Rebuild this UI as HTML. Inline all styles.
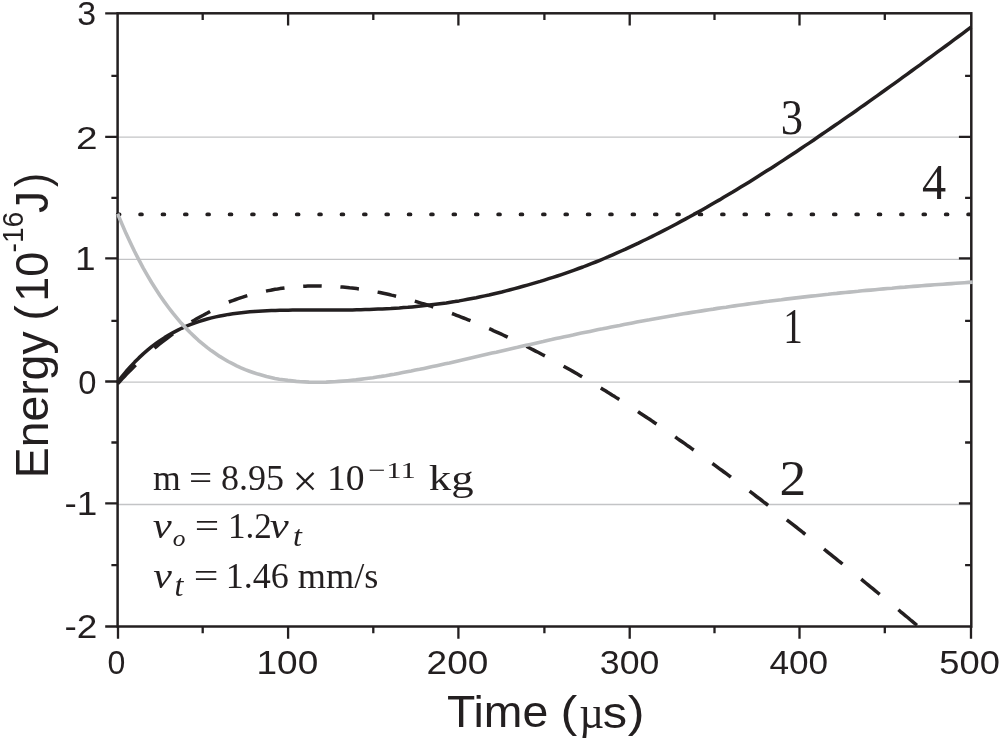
<!DOCTYPE html>
<html lang="en"><head><meta charset="utf-8"><title>Energy vs Time</title>
<style>html,body{margin:0;padding:0;background:#fff}svg{display:block}</style></head>
<body>
<svg width="1000" height="738" viewBox="0 0 1000 738">
<rect width="1000" height="738" fill="#fff"/>
<!-- horizontal grid lines -->
<g stroke="#c3c4c6" stroke-width="1.3">
<line x1="117.6" x2="971.3" y1="137.2" y2="137.2"/>
<line x1="117.6" x2="971.3" y1="259.4" y2="259.4"/>
<line x1="117.6" x2="971.3" y1="382.1" y2="382.1"/>
<line x1="117.6" x2="971.3" y1="504.5" y2="504.5"/>
</g>
<!-- curve 2 (dashed), curve 3 (solid), curve 4 (dotted) -->
<g fill="none" stroke="#231f20" stroke-linejoin="round">
<path d="M117.6,383.8 L119.9,381.3 L122.1,378.9 L124.4,376.5 L126.6,374.1 L128.9,371.8 L131.2,369.5 L133.4,367.2 L135.7,365.0M154.4,348.2 L156.7,346.3 L159.0,344.4 L161.3,342.6 L163.6,340.8 L166.0,339.0 L168.3,337.3 L170.6,335.6 L172.9,333.9M191.6,321.8 L193.9,320.4 L196.2,319.1 L198.5,317.8 L200.8,316.5 L203.2,315.3 L205.5,314.0 L207.8,312.8 L210.1,311.5M228.8,302.0 L231.1,301.1 L233.4,300.3 L235.7,299.5 L238.1,298.7 L240.4,297.9 L242.7,297.2 L245.0,296.4 L247.3,295.7M266.0,291.1 L268.3,290.6 L270.6,290.2 L272.9,289.7 L275.2,289.3 L277.6,289.0 L279.9,288.6 L282.2,288.3 L284.5,288.0M303.2,286.3 L305.5,286.2 L307.8,286.1 L310.1,286.0 L312.4,286.0 L314.8,285.9 L317.1,285.9 L319.4,285.9 L321.7,286.0M340.4,286.9 L342.7,287.1 L345.0,287.3 L347.3,287.5 L349.6,287.8 L352.0,288.0 L354.3,288.3 L356.6,288.6 L358.9,288.9M377.6,292.1 L379.9,292.5 L382.2,293.0 L384.5,293.5 L386.9,294.0 L389.2,294.5 L391.5,295.1 L393.8,295.6 L396.1,296.2M414.8,301.2 L417.1,301.9 L419.4,302.6 L421.7,303.3 L424.1,304.0 L426.4,304.7 L428.7,305.5 L431.0,306.2 L433.3,307.0M452.0,313.5 L454.3,314.4 L456.6,315.3 L458.9,316.2 L461.2,317.1 L463.6,318.0 L465.9,318.9 L468.2,319.8 L470.5,320.7M489.2,328.7 L491.5,329.7 L493.8,330.8 L496.1,331.8 L498.5,332.9 L500.8,333.9 L503.1,335.0 L505.4,336.1 L507.7,337.2M526.4,346.3 L528.7,347.5 L531.0,348.7 L533.3,349.9 L535.6,351.1 L538.0,352.3 L540.3,353.5 L542.6,354.7 L544.9,355.9M563.6,366.2 L565.9,367.5 L568.2,368.8 L570.5,370.1 L572.9,371.4 L575.2,372.7 L577.5,374.1 L579.8,375.4 L582.1,376.8M600.8,388.0 L603.1,389.4 L605.4,390.8 L607.7,392.3 L610.1,393.7 L612.4,395.2 L614.7,396.6 L617.0,398.1 L619.3,399.5M638.0,411.6 L640.3,413.2 L642.6,414.7 L644.9,416.2 L647.2,417.8 L649.6,419.3 L651.9,420.9 L654.2,422.5 L656.5,424.0M675.2,436.9 L677.5,438.6 L679.8,440.2 L682.1,441.8 L684.5,443.4 L686.8,445.1 L689.1,446.7 L691.4,448.4 L693.7,450.0M712.4,463.5 L714.7,465.2 L717.0,466.9 L719.3,468.6 L721.7,470.3 L724.0,472.0 L726.3,473.7 L728.6,475.4 L730.9,477.2M749.6,491.2 L751.9,492.9 L754.2,494.7 L756.5,496.5 L758.9,498.2 L761.2,500.0 L763.5,501.8 L765.8,503.5 L768.1,505.3M786.8,519.8 L789.1,521.6 L791.4,523.4 L793.7,525.2 L796.1,527.0 L798.4,528.8 L800.7,530.6 L803.0,532.5 L805.3,534.3M824.0,549.1 L826.3,551.0 L828.6,552.8 L830.9,554.7 L833.3,556.6 L835.6,558.4 L837.9,560.3 L840.2,562.1 L842.5,564.0M861.2,579.2 L863.5,581.1 L865.8,583.0 L868.1,584.9 L870.5,586.8 L872.8,588.7 L875.1,590.6 L877.4,592.5 L879.7,594.4M898.4,609.8 L900.7,611.8 L903.0,613.7 L905.3,615.6 L907.7,617.5 L910.0,619.5 L912.3,621.4 L914.6,623.3 L916.9,625.3" stroke-width="3.5"/>
<path d="M117.6,382.2 L121.9,376.7 L126.1,371.5 L130.4,366.7 L134.7,362.1 L138.9,357.9 L143.2,353.9 L147.5,350.2 L151.7,346.7 L156.0,343.5 L160.3,340.4 L164.6,337.6 L168.8,335.0 L173.1,332.6 L177.4,330.4 L181.6,328.3 L185.9,326.4 L190.2,324.7 L194.4,323.1 L198.7,321.6 L203.0,320.3 L207.2,319.0 L211.5,317.9 L215.8,316.9 L220.0,316.0 L224.3,315.2 L228.6,314.4 L232.8,313.8 L237.1,313.2 L241.4,312.7 L245.7,312.2 L249.9,311.8 L254.2,311.5 L258.5,311.2 L262.7,311.0 L267.0,310.8 L271.3,310.6 L275.5,310.4 L279.8,310.3 L284.1,310.2 L288.3,310.2 L292.6,310.1 L296.9,310.1 L301.1,310.1 L305.4,310.1 L309.7,310.1 L314.0,310.1 L318.2,310.1 L322.5,310.1 L326.8,310.0 L331.0,310.0 L335.3,310.0 L339.6,310.0 L343.8,310.0 L348.1,309.9 L352.4,309.9 L356.6,309.8 L360.9,309.7 L365.2,309.6 L369.4,309.5 L373.7,309.3 L378.0,309.1 L382.2,309.0 L386.5,308.7 L390.8,308.5 L395.1,308.2 L399.3,308.0 L403.6,307.6 L407.9,307.3 L412.1,306.9 L416.4,306.5 L420.7,306.1 L424.9,305.6 L429.2,305.1 L433.5,304.6 L437.7,304.1 L442.0,303.5 L446.3,302.9 L450.5,302.2 L454.8,301.6 L459.1,300.9 L463.3,300.1 L467.6,299.3 L471.9,298.5 L476.2,297.7 L480.4,296.8 L484.7,295.9 L489.0,295.0 L493.2,294.0 L497.5,293.0 L501.8,292.0 L506.0,290.9 L510.3,289.8 L514.6,288.6 L518.8,287.5 L523.1,286.3 L527.4,285.1 L531.6,283.9 L535.9,282.6 L540.2,281.4 L544.4,280.1 L548.7,278.7 L553.0,277.4 L557.3,276.0 L561.5,274.6 L565.8,273.1 L570.1,271.6 L574.3,270.1 L578.6,268.5 L582.9,267.0 L587.1,265.3 L591.4,263.7 L595.7,262.0 L599.9,260.3 L604.2,258.5 L608.5,256.7 L612.7,254.8 L617.0,252.9 L621.3,251.0 L625.6,249.1 L629.8,247.1 L634.1,245.1 L638.4,243.1 L642.6,241.0 L646.9,239.0 L651.2,236.9 L655.4,234.7 L659.7,232.6 L664.0,230.4 L668.2,228.2 L672.5,226.0 L676.8,223.7 L681.0,221.4 L685.3,219.1 L689.6,216.8 L693.8,214.4 L698.1,212.1 L702.4,209.7 L706.7,207.3 L710.9,204.8 L715.2,202.3 L719.5,199.9 L723.7,197.3 L728.0,194.8 L732.3,192.3 L736.5,189.7 L740.8,187.1 L745.1,184.5 L749.3,181.9 L753.6,179.2 L757.9,176.5 L762.1,173.8 L766.4,171.1 L770.7,168.4 L774.9,165.7 L779.2,162.9 L783.5,160.1 L787.8,157.3 L792.0,154.5 L796.3,151.7 L800.6,148.8 L804.8,145.9 L809.1,143.1 L813.4,140.2 L817.6,137.3 L821.9,134.3 L826.2,131.4 L830.4,128.5 L834.7,125.5 L839.0,122.6 L843.2,119.6 L847.5,116.6 L851.8,113.7 L856.1,110.7 L860.3,107.7 L864.6,104.7 L868.9,101.6 L873.1,98.6 L877.4,95.6 L881.7,92.5 L885.9,89.5 L890.2,86.4 L894.5,83.3 L898.7,80.3 L903.0,77.2 L907.3,74.1 L911.5,71.0 L915.8,67.9 L920.1,64.8 L924.3,61.6 L928.6,58.5 L932.9,55.4 L937.2,52.2 L941.4,49.1 L945.7,46.0 L950.0,42.8 L954.2,39.6 L958.5,36.5 L962.8,33.3 L967.0,30.1 L971.3,27.0" stroke-width="3.5"/>
<line x1="117.7" x2="970" y1="214.4" y2="214.4" stroke-width="3.7" stroke-linecap="round" stroke-dasharray="1.9 20.478"/>
</g>
<!-- axes box and ticks -->
<rect x="117.6" y="13.3" width="853.7" height="613.2" fill="none" stroke="#231f20" stroke-width="2.5"/>
<path d="M118.0,626.5v12.2M202.7,626.5v6.8M202.7,13.3v6.8M288.1,626.5v12.2M288.1,13.3v12.2M373.3,626.5v6.8M373.3,13.3v6.8M458.4,626.5v12.2M458.4,13.3v12.2M544.4,626.5v6.8M544.4,13.3v6.8M629.7,626.5v12.2M629.7,13.3v12.2M714.5,626.5v6.8M714.5,13.3v6.8M799.5,626.5v12.2M799.5,13.3v12.2M884.8,626.5v6.8M884.8,13.3v6.8M971.0,626.5v12.2M117.6,626.5h-12.4M117.6,565.2h-6.2M971.3,565.2h-6.2M117.6,503.3h-12.4M971.3,503.3h-12.4M117.6,442.5h-6.2M971.3,442.5h-6.2M117.6,381.5h-12.4M971.3,381.5h-12.4M117.6,320.8h-6.2M971.3,320.8h-6.2M117.6,258.3h-12.4M971.3,258.3h-12.4M117.6,197.9h-6.2M971.3,197.9h-6.2M117.6,136.8h-12.4M971.3,136.8h-12.4M117.6,75.8h-6.2M971.3,75.8h-6.2M117.6,13.3h-12.4" fill="none" stroke="#231f20" stroke-width="2.3"/>
<!-- curve 1 (gray), drawn over the frame as in the figure -->
<path d="M117.6,213.8 L121.9,223.9 L126.1,233.6 L130.4,242.8 L134.6,251.5 L138.9,259.9 L143.1,267.8 L147.4,275.3 L151.6,282.5 L155.9,289.3 L160.1,295.8 L164.4,301.9 L168.7,307.7 L172.9,313.2 L177.2,318.4 L181.4,323.3 L185.7,327.9 L189.9,332.3 L194.2,336.4 L198.4,340.3 L202.7,343.9 L207.0,347.4 L211.2,350.6 L215.5,353.6 L219.7,356.4 L224.0,359.0 L228.2,361.5 L232.5,363.7 L236.7,365.8 L241.0,367.8 L245.2,369.6 L249.5,371.2 L253.8,372.7 L258.0,374.1 L262.3,375.3 L266.5,376.5 L270.8,377.5 L275.0,378.4 L279.3,379.2 L283.5,379.8 L287.8,380.4 L292.1,380.9 L296.3,381.4 L300.6,381.7 L304.8,381.9 L309.1,382.1 L313.3,382.2 L317.6,382.2 L321.8,382.2 L326.1,382.1 L330.3,381.9 L334.6,381.7 L338.9,381.4 L343.1,381.1 L347.4,380.7 L351.6,380.3 L355.9,379.9 L360.1,379.4 L364.4,378.8 L368.6,378.3 L372.9,377.7 L377.1,377.0 L381.4,376.4 L385.7,375.7 L389.9,374.9 L394.2,374.2 L398.4,373.4 L402.7,372.6 L406.9,371.8 L411.2,371.0 L415.4,370.1 L419.7,369.3 L424.0,368.4 L428.2,367.5 L432.5,366.6 L436.7,365.7 L441.0,364.7 L445.2,363.8 L449.5,362.9 L453.7,361.9 L458.0,360.9 L462.2,360.0 L466.5,359.0 L470.8,358.0 L475.0,357.1 L479.3,356.1 L483.5,355.1 L487.8,354.1 L492.0,353.1 L496.3,352.2 L500.5,351.2 L504.8,350.2 L509.1,349.2 L513.3,348.2 L517.6,347.3 L521.8,346.3 L526.1,345.3 L530.3,344.4 L534.6,343.4 L538.8,342.4 L543.1,341.5 L547.3,340.5 L551.6,339.6 L555.9,338.6 L560.1,337.7 L564.4,336.8 L568.6,335.9 L572.9,335.0 L577.1,334.0 L581.4,333.1 L585.6,332.3 L589.9,331.4 L594.1,330.5 L598.4,329.6 L602.7,328.8 L606.9,327.9 L611.2,327.0 L615.4,326.2 L619.7,325.4 L623.9,324.5 L628.2,323.7 L632.4,322.9 L636.7,322.1 L641.0,321.3 L645.2,320.5 L649.5,319.8 L653.7,319.0 L658.0,318.2 L662.2,317.5 L666.5,316.7 L670.7,316.0 L675.0,315.3 L679.2,314.5 L683.5,313.8 L687.8,313.1 L692.0,312.4 L696.3,311.7 L700.5,311.1 L704.8,310.4 L709.0,309.7 L713.3,309.1 L717.5,308.4 L721.8,307.8 L726.1,307.2 L730.3,306.5 L734.6,305.9 L738.8,305.3 L743.1,304.7 L747.3,304.1 L751.6,303.5 L755.8,303.0 L760.1,302.4 L764.3,301.8 L768.6,301.3 L772.9,300.7 L777.1,300.2 L781.4,299.7 L785.6,299.1 L789.9,298.6 L794.1,298.1 L798.4,297.6 L802.6,297.1 L806.9,296.6 L811.2,296.1 L815.4,295.7 L819.7,295.2 L823.9,294.7 L828.2,294.3 L832.4,293.8 L836.7,293.4 L840.9,292.9 L845.2,292.5 L849.4,292.1 L853.7,291.7 L858.0,291.3 L862.2,290.8 L866.5,290.4 L870.7,290.1 L875.0,289.7 L879.2,289.3 L883.5,288.9 L887.7,288.5 L892.0,288.2 L896.2,287.8 L900.5,287.4 L904.8,287.1 L909.0,286.7 L913.3,286.4 L917.5,286.1 L921.8,285.7 L926.0,285.4 L930.3,285.1 L934.5,284.8 L938.8,284.5 L943.1,284.2 L947.3,283.9 L951.6,283.6 L955.8,283.3 L960.1,283.0 L964.3,282.7 L968.6,282.4 L972.8,282.1" fill="none" stroke="#bbbdbf" stroke-width="3.6" stroke-linejoin="round"/>
<!-- text -->
<g fill="#231f20">
<text font-family="'Liberation Serif', 'Times New Roman', Times, serif" font-size="35.00"><tspan x="152.98" y="490.00" textLength="27.76" lengthAdjust="spacingAndGlyphs">m</tspan> <tspan x="189.05" y="490.00" textLength="23.21" lengthAdjust="spacingAndGlyphs">=</tspan> <tspan x="220.97" y="490.00" textLength="63.01" lengthAdjust="spacingAndGlyphs">8.95</tspan> <tspan x="292.40" y="495.63" font-size="45.00" textLength="25.28" lengthAdjust="spacingAndGlyphs">×</tspan> <tspan x="326.98" y="490.00" textLength="37.60" lengthAdjust="spacingAndGlyphs">10</tspan><tspan x="368.23" y="478.30" font-size="24.00" textLength="17.34" lengthAdjust="spacingAndGlyphs">−</tspan><tspan x="386.39" y="478.00" font-size="24.00" textLength="29.58" lengthAdjust="spacingAndGlyphs">11</tspan> <tspan x="428.85" y="490.00" textLength="44.80" lengthAdjust="spacingAndGlyphs">kg</tspan></text>
<text font-family="'Liberation Serif', 'Times New Roman', Times, serif" font-size="36.03"><tspan x="152.78" y="538.30" font-style="italic" textLength="18.99" lengthAdjust="spacingAndGlyphs">v</tspan><tspan x="172.78" y="546.20" font-size="23.96" font-style="italic" textLength="12.73" lengthAdjust="spacingAndGlyphs">o</tspan> <tspan x="194.72" y="538.00" font-size="35.00" textLength="24.44" lengthAdjust="spacingAndGlyphs">=</tspan> <tspan x="227.99" y="538.00" font-size="35.00" textLength="43.86" lengthAdjust="spacingAndGlyphs">1.2</tspan><tspan x="269.78" y="538.30" font-style="italic" textLength="18.99" lengthAdjust="spacingAndGlyphs">v</tspan><tspan x="293.08" y="546.20" font-size="30.18" font-style="italic" textLength="8.90" lengthAdjust="spacingAndGlyphs">t</tspan></text>
<text font-family="'Liberation Serif', 'Times New Roman', Times, serif" font-size="36.24"><tspan x="153.30" y="587.80" font-style="italic" textLength="18.66" lengthAdjust="spacingAndGlyphs">v</tspan><tspan x="174.63" y="595.70" font-size="31.25" font-style="italic" textLength="8.90" lengthAdjust="spacingAndGlyphs">t</tspan> <tspan x="193.80" y="587.50" font-size="35.00" textLength="24.69" lengthAdjust="spacingAndGlyphs">=</tspan> <tspan x="225.71" y="587.50" font-size="35.00" textLength="63.08" lengthAdjust="spacingAndGlyphs">1.46</tspan> <tspan x="297.76" y="587.50" font-size="35.00" textLength="80.56" lengthAdjust="spacingAndGlyphs">mm/s</tspan></text>
<text font-family="'Liberation Serif', 'Times New Roman', Times, serif" font-size="51.14"><tspan x="780.68" y="134.30" textLength="22.28" lengthAdjust="spacingAndGlyphs">3</tspan></text>
<text font-family="'Liberation Serif', 'Times New Roman', Times, serif" font-size="50.53"><tspan x="922.01" y="198.80" textLength="24.18" lengthAdjust="spacingAndGlyphs">4</tspan></text>
<text font-family="'Liberation Serif', 'Times New Roman', Times, serif" font-size="50.84"><tspan x="783.30" y="342.50" textLength="19.60" lengthAdjust="spacingAndGlyphs">1</tspan></text>
<text font-family="'Liberation Serif', 'Times New Roman', Times, serif" font-size="49.92"><tspan x="779.52" y="494.80" textLength="26.70" lengthAdjust="spacingAndGlyphs">2</tspan></text>
<text font-family="'Liberation Sans', Arial, Helvetica, sans-serif" font-size="33.07"><tspan x="107.51" y="673.60" textLength="17.85" lengthAdjust="spacingAndGlyphs">0</tspan></text>
<text font-family="'Liberation Sans', Arial, Helvetica, sans-serif" font-size="33.07"><tspan x="256.53" y="673.60" textLength="61.68" lengthAdjust="spacingAndGlyphs">100</tspan></text>
<text font-family="'Liberation Sans', Arial, Helvetica, sans-serif" font-size="33.07"><tspan x="426.63" y="673.60" textLength="61.68" lengthAdjust="spacingAndGlyphs">200</tspan></text>
<text font-family="'Liberation Sans', Arial, Helvetica, sans-serif" font-size="33.07"><tspan x="599.80" y="673.60" textLength="59.55" lengthAdjust="spacingAndGlyphs">300</tspan></text>
<text font-family="'Liberation Sans', Arial, Helvetica, sans-serif" font-size="33.07"><tspan x="769.42" y="673.60" textLength="58.72" lengthAdjust="spacingAndGlyphs">400</tspan></text>
<text font-family="'Liberation Sans', Arial, Helvetica, sans-serif" font-size="33.07"><tspan x="939.26" y="673.60" textLength="60.61" lengthAdjust="spacingAndGlyphs">500</tspan></text>
<text font-family="'Liberation Sans', Arial, Helvetica, sans-serif" font-size="32.78"><tspan x="77.36" y="24.90" textLength="18.87" lengthAdjust="spacingAndGlyphs">3</tspan></text>
<text font-family="'Liberation Sans', Arial, Helvetica, sans-serif" font-size="32.22"><tspan x="76.01" y="148.50" textLength="21.56" lengthAdjust="spacingAndGlyphs">2</tspan></text>
<text font-family="'Liberation Sans', Arial, Helvetica, sans-serif" font-size="32.50"><tspan x="75.10" y="270.30" textLength="20.56" lengthAdjust="spacingAndGlyphs">1</tspan></text>
<text font-family="'Liberation Sans', Arial, Helvetica, sans-serif" font-size="32.78"><tspan x="78.19" y="393.50" textLength="18.19" lengthAdjust="spacingAndGlyphs">0</tspan></text>
<text font-family="'Liberation Sans', Arial, Helvetica, sans-serif" font-size="32.50"><tspan x="64.56" y="515.30" textLength="32.87" lengthAdjust="spacingAndGlyphs">-1</tspan></text>
<text font-family="'Liberation Sans', Arial, Helvetica, sans-serif" font-size="32.64"><tspan x="64.56" y="638.40" textLength="32.91" lengthAdjust="spacingAndGlyphs">-2</tspan></text>
<text font-family="'Liberation Sans', Arial, Helvetica, sans-serif" font-size="44.27"><tspan x="446.95" y="727.30" textLength="101.33" lengthAdjust="spacingAndGlyphs">Time</tspan> <tspan x="560.46" y="727.00" font-size="44.00" textLength="16.79" lengthAdjust="spacingAndGlyphs">(</tspan><tspan x="579.37" y="727.50" font-size="46.00" font-family="'Liberation Serif', 'Times New Roman', Times, serif" textLength="24.75" lengthAdjust="spacingAndGlyphs">µ</tspan><tspan x="602.69" y="728.00" font-size="44.18" textLength="24.32" lengthAdjust="spacingAndGlyphs">s</tspan><tspan x="627.85" y="727.00" font-size="44.00" textLength="16.79" lengthAdjust="spacingAndGlyphs">)</tspan></text>
<text transform="matrix(0 -1 1 0 48.40 474.00)" font-family="'Liberation Sans', Arial, Helvetica, sans-serif" font-size="46.41"><tspan x="-4.21" y="0.00" textLength="146.75" lengthAdjust="spacingAndGlyphs">Energy</tspan> <tspan x="153.56" y="0.00" textLength="15.32" lengthAdjust="spacingAndGlyphs">(</tspan><tspan x="172.13" y="0.00" textLength="50.07" lengthAdjust="spacingAndGlyphs">10</tspan><tspan x="221.49" y="-25.50" font-size="29.92" textLength="40.79" lengthAdjust="spacingAndGlyphs">-16</tspan> <tspan x="261.01" y="0.00" textLength="21.88" lengthAdjust="spacingAndGlyphs">J</tspan><tspan x="287.04" y="0.00" textLength="14.12" lengthAdjust="spacingAndGlyphs">)</tspan></text>
</g>
</svg>
</body></html>
